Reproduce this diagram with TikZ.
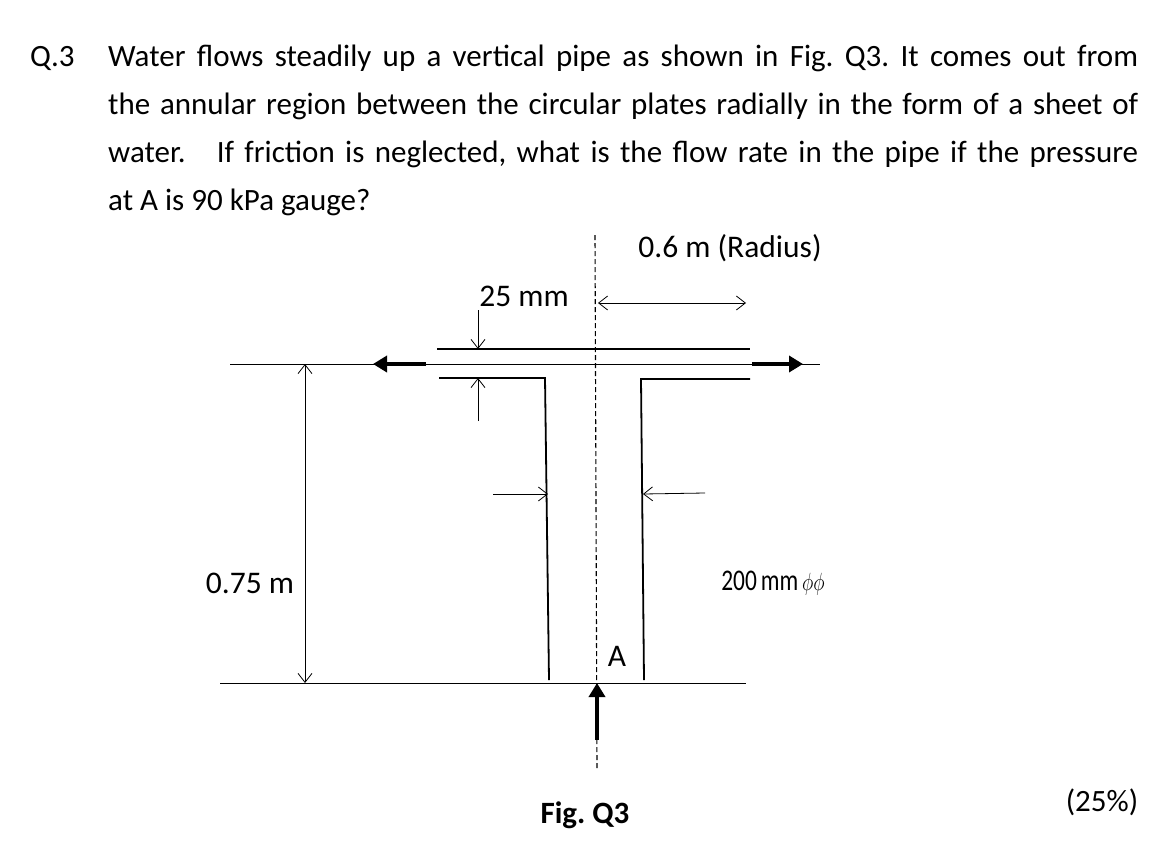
\documentclass[tikz,border=0pt]{standalone}
\usepackage{fontspec}
\setmainfont{Carlito}
\usetikzlibrary{arrows.meta}
\begin{document}
\frenchspacing
\begin{tikzpicture}[x=1pt,y=-1pt,
  txt/.style={inner sep=0pt,font=\fontsize{31}{36}\selectfont},
  lbl/.style={inner sep=0pt,font=\fontsize{31.5}{36}\selectfont},
  plate/.style={line width=2.2pt},
  thin/.style={line width=0.9pt},
  dim/.style={line width=0.8pt,-{Straight Barb[length=9pt,width=14pt]}},
  flow/.style={line width=4pt,-{Triangle[length=14pt,width=16pt]}}]
\useasboundingbox (0,0) rectangle (1164,846);
\node[txt,anchor=base west] (q) at (30,66) {Q.3};
\node[txt,anchor=base west] (l1) at (108,66) {\hbox to 1030pt{Water flows steadily up a vertical pipe as shown in Fig. Q3. It comes out from}};
\node[txt,anchor=base west] (l2) at (108,114) {\hbox to 1030pt{the annular region between the circular plates radially in the form of a sheet of}};
\node[txt,anchor=base west] (l3) at (108,162) {\hbox to 1030pt{water.\ \ \ If friction is neglected, what is the flow rate in the pipe if the pressure}};
\node[txt,anchor=base west] (l4) at (108,210) {at A is 90 kPa gauge?};
% center line
\coordinate (ct) at (595,235); \coordinate (cb) at (597,770);
\draw[line width=1.1pt,dash pattern=on 5pt off 3pt] (ct) -- (cb);
% plates
\coordinate (tpL) at (437,349); \coordinate (tpR) at (750,349);
\draw[plate] (tpL) -- (tpR);
\coordinate (lpA) at (439,378); \coordinate (lpB) at (545,378); \coordinate (lpC) at (549,680);
\draw[plate,line width=1.8pt] (lpA) -- (lpB) -- (lpC);
\coordinate (rpA) at (750,379); \coordinate (rpB) at (641,379); \coordinate (rpC) at (644,680);
\draw[plate,line width=1.8pt] (rpA) -- (rpB) -- (rpC);
% sheet line and ground
\coordinate (sL) at (230,364); \coordinate (sR) at (820,364);
\draw[thin] (sL) -- (sR);
\coordinate (gL) at (220,683); \coordinate (gR) at (746,683);
\draw[thin] (gL) -- (gR);
% flow arrows
\coordinate (fl1) at (426,364); \coordinate (fl2) at (373,364);
\draw[flow] (fl1) -- (fl2);
\coordinate (fr1) at (752,364); \coordinate (fr2) at (803,364);
\draw[flow] (fr1) -- (fr2);
\coordinate (fu1) at (597,740); \coordinate (fu2) at (597,683);
\draw[flow] (fu1) -- (fu2);
% 25 mm
\node[lbl] (t25) at (524,296) {25 mm};
\coordinate (a1) at (478,310); \coordinate (a2) at (478,349);
\draw[dim] (a1) -- (a2);
\coordinate (b1) at (478,421); \coordinate (b2) at (478,378);
\draw[dim] (b1) -- (b2);
% radius
\node[lbl] (trad) at (730,248) {0.6 m (Radius)};
\coordinate (r1) at (598,303); \coordinate (r2) at (746,303);
\draw[dim,{Straight Barb[length=9pt,width=14pt]}-{Straight Barb[length=9pt,width=14pt]}] (r1) -- (r2);
% 0.75 m
\node[lbl] (t75) at (250,583) {0.75 m};
\coordinate (h1) at (305,364); \coordinate (h2) at (305,683);
\draw[dim,{Straight Barb[length=9pt,width=14pt]}-{Straight Barb[length=9pt,width=14pt]}] (h1) -- (h2);
% diameter
\coordinate (d1) at (493,494); \coordinate (d2) at (548,494);
\draw[dim] (d1) -- (d2);
\coordinate (e1) at (705,493); \coordinate (e2) at (643,494);
\draw[dim] (e1) -- (e2);
\node[lbl,font=\fontsize{30}{34}\selectfont] (t200) at (773,583) {\scalebox{0.78}[1]{200\,mm\,$\phi\phi$}};
\node[lbl] (tA) at (617,656) {A};
\node[txt,font=\fontsize{31}{36}\selectfont\bfseries] (fig) at (585,815) {Fig. Q3};
\node[txt] (pct) at (1102,802) {(25\%)};
\end{tikzpicture}
\end{document}
